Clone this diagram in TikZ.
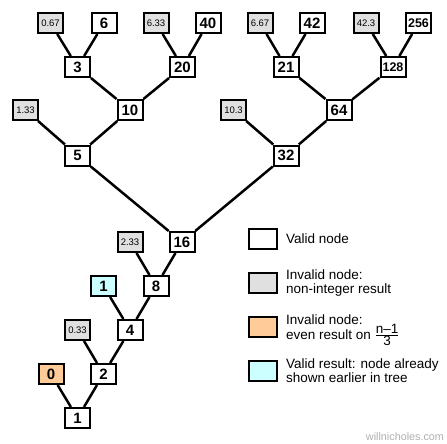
\documentclass[tikz,border=0pt]{standalone}
\usepackage{fontspec}
\setmainfont{Liberation Sans}
\usetikzlibrary{positioning}
\definecolor{nonint}{RGB}{224,224,224}
\definecolor{evenres}{RGB}{255,204,153}
\definecolor{seen}{RGB}{204,255,255}
\definecolor{markgray}{RGB}{175,175,175}

\begin{document}
\begin{tikzpicture}[x=1pt,y=-1pt,line width=2pt]
            \tikzstyle{vertex}=[rectangle,draw=black,fill=white,minimum width=25pt,minimum height=20pt,inner sep=0pt,font=\fontsize{15}{15}\bfseries\selectfont]
            \tikzstyle{widevertex}=[vertex,font=\fontsize{12.5}{13}\bfseries\selectfont]
            \tikzstyle{invalid}=[vertex,fill=nonint,font=\fontsize{9.5}{10}\selectfont]
            \tikzstyle{edge}=[line width=2.5pt]
            \tikzstyle{key}=[rectangle,draw=black,minimum width=28pt,minimum height=20pt,inner sep=0pt]
            \tikzstyle{keytext}=[align=left,inner sep=1pt,font=\fontsize{13.5}{14.5}\selectfont]

            \useasboundingbox (0,0) rectangle (447,444);

            % valid nodes
            \foreach \num/\x/\y in {1/77.5/418, 2/103.5/374, 4/130/330, 8/156/286, 16/182/242,
                                    5/77.5/155.5, 32/286/155.5, 10/130/110, 64/339/110,
                                    3/77.5/67, 20/182.5/67, 21/286/67,
                                    6/104/23, 40/208/23, 42/312/23}
                    \node[vertex] (V-\num) at (\x,\y) {\num};
            \foreach \num/\x/\y in {128/393/67, 256/418.5/23}
                    \node[widevertex] (V-\num) at (\x,\y) {\num};

            % non-integer results, named after their parent
            \foreach \num/\x/\y/\val in {3/50.5/23/0.67, 20/156/23/6.33, 21/260/23/6.67, 128/366/23/42.3,
                                         5/25.5/110/1.33, 32/233.5/110/10.3, 8/130/242/2.33, 2/77.5/330/0.33}
                    \node[invalid] (I-\num) at (\x,\y) {\val};

            \node[vertex,fill=evenres] (E-1) at (51,374) {0};
            \node[vertex,fill=seen] (S-4) at (103.5,286) {1};

                \foreach \from/\to in {1/2, 2/4, 4/8, 8/16, 16/5, 16/32, 5/10, 10/3, 10/20,
                                       32/64, 64/21, 64/128, 3/6, 20/40, 21/42, 128/256}
                    \draw[edge] (V-\from) -- (V-\to);
                \foreach \from in {3, 20, 21, 128, 5, 32, 8, 2}
                    \draw[edge] (V-\from) -- (I-\from);
                \draw[edge] (V-1) -- (E-1);
                \draw[edge] (V-4) -- (S-4);

            % legend
            \node[key] (K-valid) at (263,239) {};
            \node[key,fill=nonint] (K-nonint) at (263,283) {};
            \node[key,fill=evenres] (K-even) at (263,327) {};
            \node[key,fill=seen] (K-seen) at (263,370.5) {};
            \node[keytext,right=6pt of K-valid] (T-valid) {Valid node};
            \node[keytext,right=6pt of K-nonint] (T-nonint) {Invalid node:\\non-integer result};
            \node[keytext,right=6pt of K-even] (T-even) {Invalid node:\\even result on \smash{$\frac{\mbox{n--1}}{\mbox{3}}$}};
            \node[keytext,right=6pt of K-seen] (T-seen) {Valid result: node already\\shown earlier in tree};

            \node[anchor=east,inner sep=0pt,text=markgray,font=\fontsize{10.8}{11}\selectfont] (mark) at (445,437) {willnicholes.com};
        \end{tikzpicture}
\end{document}
